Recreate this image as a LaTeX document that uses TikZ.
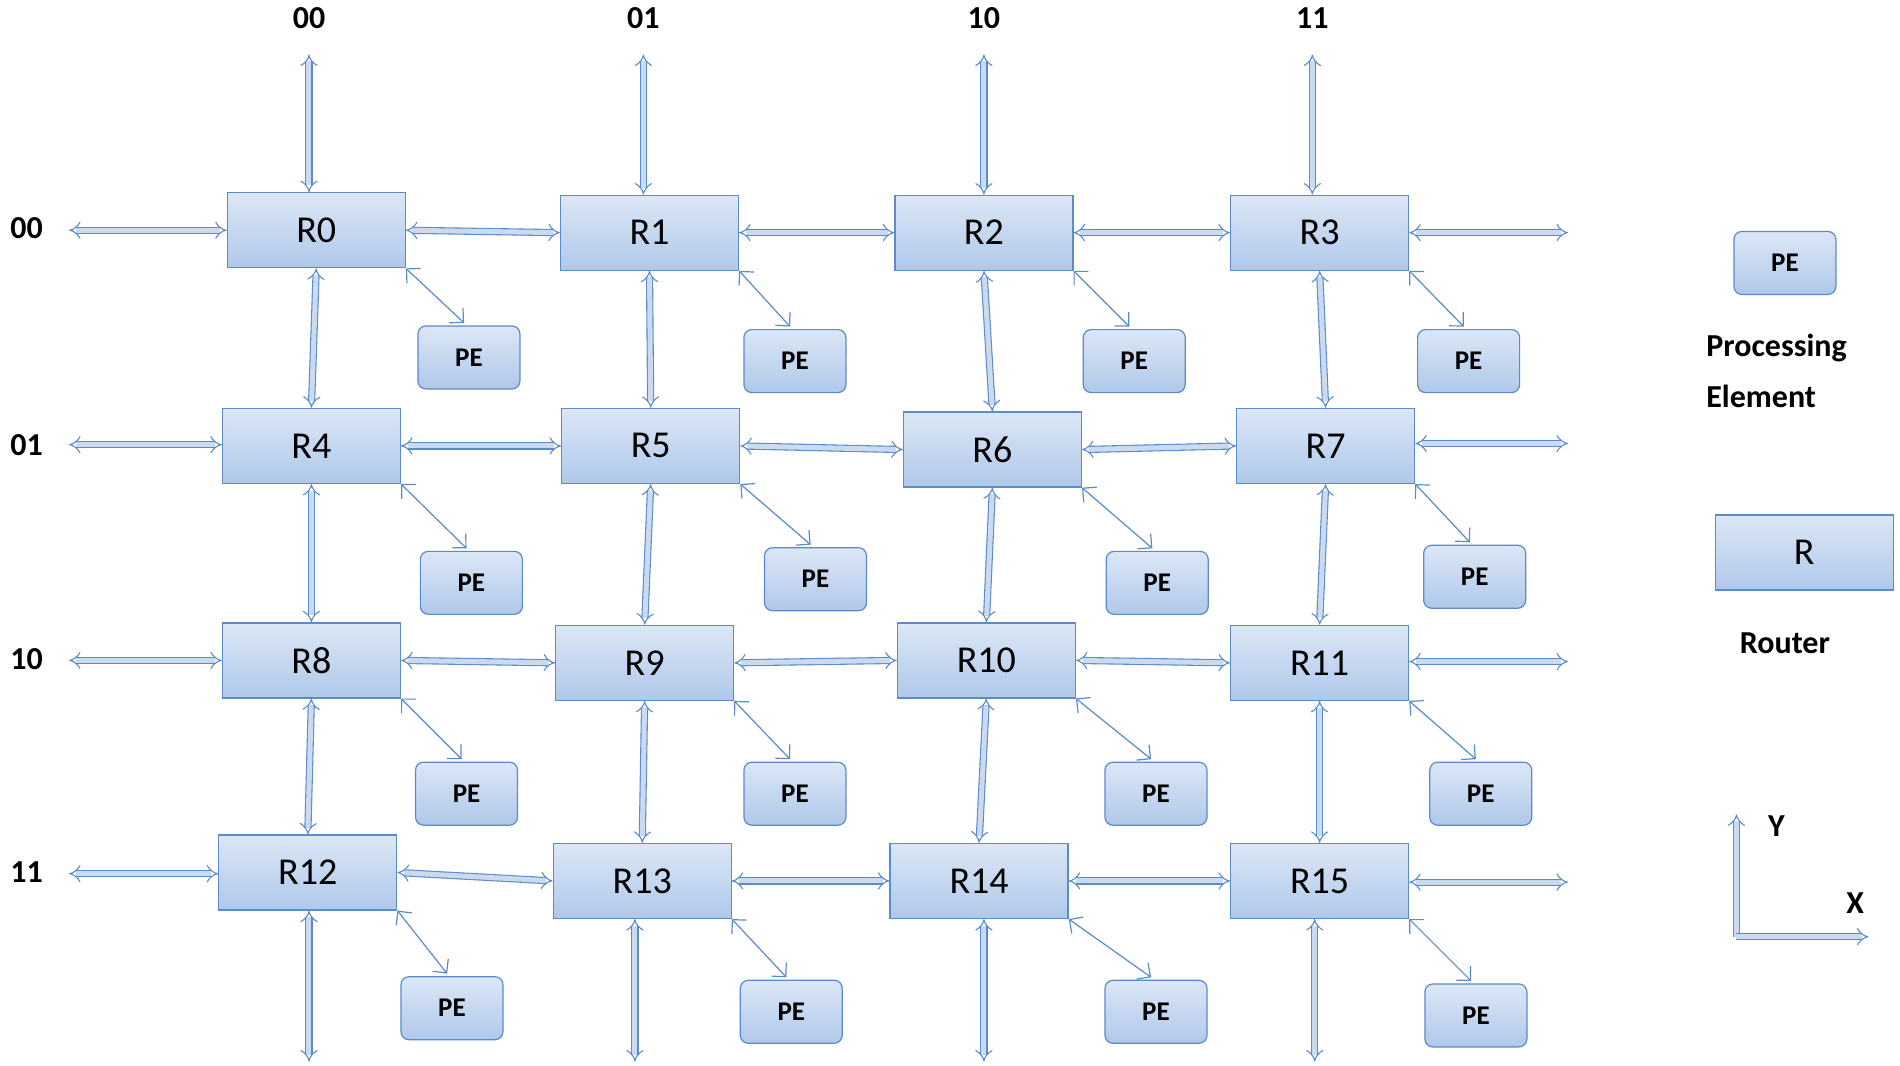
\documentclass[tikz,border=0pt]{standalone}
\usepackage{fontspec}
\setmainfont{Carlito}
\usetikzlibrary{arrows.meta,calc}
\definecolor{bd}{HTML}{5B8BC9}
\definecolor{ft}{HTML}{DCE7F6}
\definecolor{fb}{HTML}{AFC8EA}
\definecolor{af}{HTML}{C9DAF1}
\tikzset{
 rt/.style={draw=bd,line width=1.2pt,top color=ft,bottom color=fb,minimum width=178pt,minimum height=75pt,font=\fontsize{38}{40}\selectfont,inner sep=0pt},
 pe/.style={draw=bd,line width=1.2pt,rounded corners=8pt,top color=ft,bottom color=fb,minimum width=102pt,minimum height=63pt,font=\fontsize{27}{30}\selectfont\bfseries,inner sep=0pt},
 lb/.style={font=\fontsize{32}{36}\selectfont\bfseries,inner sep=0pt},
 dbl/.style={draw=bd,double=af,double distance=5pt,line width=1.1pt,{Implies[length=8pt]}-{Implies[length=8pt]}},
 pelink/.style={draw=bd,line width=1.2pt,{Straight Barb[length=10pt]}-{Straight Barb[length=10pt]}},
}
\begin{document}
\begin{tikzpicture}[x=1.2117pt,y=-1.2117pt]
\useasboundingbox (0,0) rectangle (1568,879);
% routers
\foreach \n/\x/\y in {0/261/190,1/536/192,2/812/192,3/1089/192,
 4/257/368,5/537/368,6/819/371,7/1094/368,
 8/257/545,9/532/547,10/814/545,11/1089/547,
 12/254/720,13/530/727,14/808/727,15/1089/727}
 \node[rt] (R\n) at (\x,\y) {R\n};
\foreach \n/\x/\y in {0/387/295,1/656/298,2/936/298,3/1212/298,
 4/389/481,5/673/478,6/955/481,7/1217/476,
 8/385/655,9/656/655,10/954/655,11/1222/655,
 12/373/832,13/653/835,14/954/835,15/1218/838}
 {\node[pe] (P\n) at (\x,\y) {PE};
  \draw[pelink] (R\n.south east) -- ($(P\n.north)+(-4,-2)$);}
% horizontal links
\foreach \a/\b in {0/1,1/2,2/3,4/5,5/6,6/7,8/9,9/10,10/11,12/13,13/14,14/15}
 \draw[dbl] (R\a.east) -- (R\b.west);
\foreach \a/\b in {0/4,1/5,2/6,3/7,4/8,5/9,6/10,7/11,8/12,9/13,10/14,11/15}
 \draw[dbl] (R\a.south) -- (R\b.north);
% outside links
\foreach \r/\x/\t in {0/255/00,1/531/01,2/812/10,3/1083/11}{
 \coordinate (T\r) at (\x,45);
 \draw[dbl] (T\r) -- (T\r|-R\r.north);
 \node[lb] at (\x,15) {\t};}
\foreach \r/\x in {12/255,13/524,14/812,15/1085}{
 \coordinate (B\r) at (\x,876);
 \draw[dbl] (B\r|-R\r.south) -- (B\r);}
\foreach \r/\y/\t/\ly in {0/190/00/188,4/367/01/367,8/545/10/544,12/721/11/720}{
 \coordinate (L\r) at (57,\y);
 \draw[dbl] (L\r) -- (L\r-|R\r.west);
 \node[lb] at (22,\ly) {\t};}
\foreach \r/\y in {3/192,7/366,11/546,15/728}{
 \coordinate (E\r) at (1294,\y);
 \draw[dbl] (E\r-|R\r.east) -- (E\r);}
% legend
\node[pe] (LP) at (1473,217) {PE};
\node[lb,anchor=west] at (1408,287) {Processing};
\node[lb,anchor=west] at (1408,327) {Element};
\node[rt] (LR) at (1489,456) {R};
\node[lb] at (1473,531) {Router};
\coordinate (O) at (1433,773);
\coordinate (Yt) at (1433,672);
\coordinate (Xt) at (1542,773);
\draw[draw=bd,double=af,double distance=5pt,line width=1.1pt,-{Implies[length=8pt]}] (O) -- (Yt);
\draw[draw=bd,double=af,double distance=5pt,line width=1.1pt,-{Implies[length=8pt]}] (O) -- (Xt);
\node[lb] at (1466,682) {Y};
\node[lb] at (1531,745) {X};
\end{tikzpicture}
\end{document}
